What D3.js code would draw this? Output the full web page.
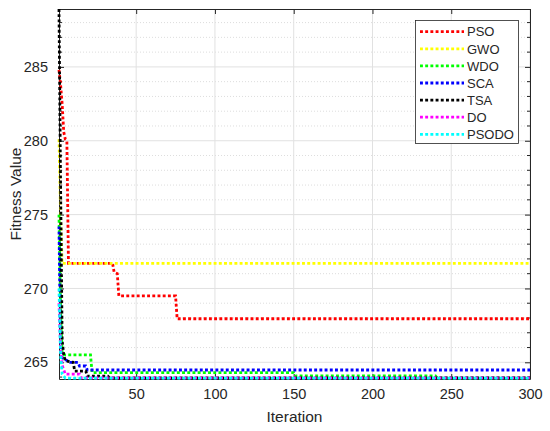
<!DOCTYPE html>
<html>
<head>
<meta charset="utf-8">
<script src="https://cdn.jsdelivr.net/npm/d3@7"></script>
<style>
    body { margin: 0; background: #ffffff; }
    text { font-family: "Liberation Sans", Arial, sans-serif; fill: #262626; }
</style>
</head>
<body>
<div id="chart"></div>
<script>
//series names and colors
var seriesNames = ['PSO', 'GWO', 'WDO', 'SCA', 'TSA', 'DO', 'PSODO'];
var seriesColors = ['#ff0000', '#ffff00', '#00ff00', '#0000ff', '#000000', '#ff00ff', '#00ffff'];

//read points [iteration, fitness] for each algorithm
var psoValues = [[1, 284.8], [2, 283.8], [3, 282.5], [4, 280.6], [5, 280.1], [6, 280.0], [7, 271.7],
    [35, 271.7], [36, 271.1], [38, 271.0], [39, 269.5], [75, 269.5], [76, 267.95], [300, 267.95]];
var gwoValues = [[1, 280.1], [2, 275.0], [3, 271.7], [300, 271.7]];
var wdoValues = [[1, 275.0], [2, 268.5], [3, 265.6], [4, 265.5], [21, 265.5], [22, 264.3],
    [150, 264.3], [151, 264.08], [240, 264.08], [241, 263.95], [300, 263.95]];
var scaValues = [[1, 274.2], [2, 265.8], [3, 265.3], [8, 265.0], [13, 265.0], [14, 264.75],
    [18, 264.75], [19, 264.48], [300, 264.48]];
var tsaValues = [[1, 288.92], [2, 277.0], [3, 266.5], [4, 265.5], [5, 265.1], [10, 265.0], [11, 264.4],
    [18, 264.4], [19, 264.06], [32, 264.06], [33, 263.95], [300, 263.95]];
var doValues = [[1, 269.0], [2, 266.0], [3, 264.8], [5, 264.2], [14, 264.2], [15, 263.95], [300, 263.95]];
var psodoValues = [[1, 270.0], [2, 265.5], [3, 264.2], [5, 263.93], [300, 263.93]];

//tick values
var xTicks = [50, 100, 150, 200, 250, 300];
var yTicks = [265, 270, 275, 280, 285];
var yMinorTicks = d3.range(264, 289, 1);

var allSeries = [psoValues, gwoValues, wdoValues, scaValues, tsaValues, doValues, psodoValues];

//declare chart sizes
var width = 550,
    height = 431,
    plot = { left: 59, top: 9, right: 530, bottom: 379 },
    dotWidth = 2.8,
    dotDash = '2.9,2.3';

var svg = d3.select('#chart').append('svg')
    .attr('width', width)
    .attr('height', height);

//scales
var x = d3.scaleLinear().domain([1, 300]).range([plot.left, plot.right]);
var y = d3.scaleLinear().domain([263.87, 288.92]).range([plot.bottom, plot.top]);

var line = d3.line()
    .x(function (d) { return x(d[0]); })
    .y(function (d) { return y(d[1]); });

//white plot background
svg.append('rect')
    .attr('x', plot.left).attr('y', plot.top)
    .attr('width', plot.right - plot.left).attr('height', plot.bottom - plot.top)
    .attr('fill', '#ffffff');

//minor y grid
svg.append('g').selectAll('line')
    .data(yMinorTicks.filter(function (v) { return yTicks.indexOf(v) < 0; }))
    .enter().append('line')
    .attr('x1', plot.left).attr('x2', plot.right)
    .attr('y1', function (d) { return y(d); }).attr('y2', function (d) { return y(d); })
    .attr('stroke', '#d4d4d4').attr('stroke-width', 0.8)
    .attr('stroke-dasharray', '1,2');

//major grid
svg.append('g').selectAll('line')
    .data(yTicks)
    .enter().append('line')
    .attr('x1', plot.left).attr('x2', plot.right)
    .attr('y1', function (d) { return y(d); }).attr('y2', function (d) { return y(d); })
    .attr('stroke', '#e1e1e1').attr('stroke-width', 1);

svg.append('g').selectAll('line')
    .data(xTicks)
    .enter().append('line')
    .attr('y1', plot.top).attr('y2', plot.bottom)
    .attr('x1', function (d) { return x(d); }).attr('x2', function (d) { return x(d); })
    .attr('stroke', '#e1e1e1').attr('stroke-width', 1);

//axes, ticks point inward
var xAxis = d3.axisBottom(x).tickValues(xTicks).tickSizeInner(-5).tickSizeOuter(0).tickPadding(10);
var xAxisTop = d3.axisTop(x).tickValues(xTicks).tickSizeInner(-5).tickSizeOuter(0).tickFormat('');
var yAxis = d3.axisLeft(y).tickValues(yTicks).tickSizeInner(-5).tickSizeOuter(0).tickPadding(11);
var yAxisRight = d3.axisRight(y).tickValues(yTicks).tickSizeInner(-5).tickSizeOuter(0).tickFormat('');

function styleAxis(g) {
    g.selectAll('path, line').attr('stroke', '#262626');
    g.selectAll('text').attr('font-size', '14.5px').attr('fill', '#262626')
        .attr('font-family', '"Liberation Sans", Arial, sans-serif');
}

svg.append('g').attr('transform', 'translate(0,' + plot.bottom + ')').call(xAxis).call(styleAxis);
svg.append('g').attr('transform', 'translate(0,' + plot.top + ')').call(xAxisTop).call(styleAxis);
svg.append('g').attr('transform', 'translate(' + plot.left + ',0)').call(yAxis).call(styleAxis);
svg.append('g').attr('transform', 'translate(' + plot.right + ',0)').call(yAxisRight).call(styleAxis);

//minor y ticks on both sides
var minorG = svg.append('g');
yMinorTicks.filter(function (v) { return yTicks.indexOf(v) < 0; }).forEach(function (v) {
    minorG.append('line').attr('x1', plot.left).attr('x2', plot.left + 3)
        .attr('y1', y(v)).attr('y2', y(v)).attr('stroke', '#262626');
    minorG.append('line').attr('x1', plot.right - 3).attr('x2', plot.right)
        .attr('y1', y(v)).attr('y2', y(v)).attr('stroke', '#262626');
});

//series lines
svg.append('g').selectAll('path.series')
    .data(allSeries)
    .enter().append('path')
    .attr('class', 'series')
    .attr('d', function (d) { return line(d); })
    .attr('fill', 'none')
    .attr('stroke', function (d, i) { return seriesColors[i]; })
    .attr('stroke-width', dotWidth)
    .attr('stroke-dasharray', dotDash);

//axis labels
svg.append('text')
    .attr('x', (plot.left + plot.right) / 2).attr('y', 422)
    .attr('text-anchor', 'middle').attr('font-size', '15.5px')
    .text('Iteration');

svg.append('text')
    .attr('transform', 'translate(21,' + (plot.top + plot.bottom) / 2 + ') rotate(-90)')
    .attr('text-anchor', 'middle').attr('font-size', '15.5px')
    .text('Fitness Value');

//legend
var legend = svg.append('g');
legend.append('rect')
    .attr('x', 415.5).attr('y', 20.5)
    .attr('width', 103).attr('height', 123)
    .attr('fill', '#ffffff').attr('stroke', '#262626').attr('stroke-width', 0.8);

seriesNames.forEach(function (name, i) {
    var ly = 31.7 + i * 17.1;
    legend.append('line')
        .attr('x1', 420).attr('x2', 464)
        .attr('y1', ly).attr('y2', ly)
        .attr('stroke', seriesColors[i]).attr('stroke-width', dotWidth)
        .attr('stroke-dasharray', dotDash);
    legend.append('text')
        .attr('x', 467).attr('y', ly + 4.7)
        .attr('font-size', '13px')
        .text(name);
});
</script>
</body>
</html>
